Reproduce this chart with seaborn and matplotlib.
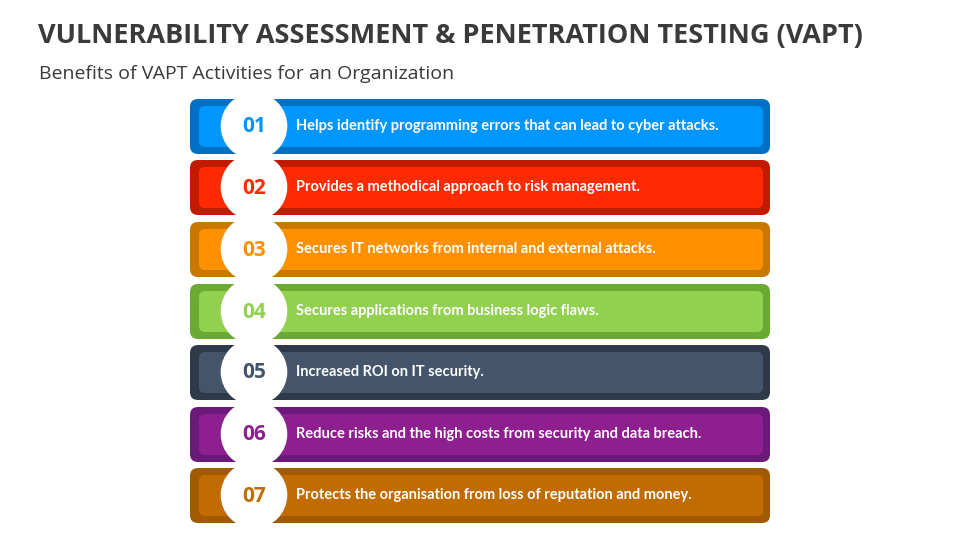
import matplotlib
matplotlib.use('Agg')
import matplotlib.pyplot as plt
import seaborn as sns
import pandas as pd
from matplotlib.patches import FancyBboxPatch

sns.set_theme(style='white')

title = 'VULNERABILITY ASSESSMENT & PENETRATION TESTING (VAPT)'
subtitle = 'Benefits of VAPT Activities for an Organization'
numbers = ['01', '02', '03', '04', '05', '06', '07']
benefits = [
    'Helps identify programming errors that can lead to cyber attacks.',
    'Provides a methodical approach to risk management.',
    'Secures IT networks from internal and external attacks.',
    'Secures applications from business logic flaws.',
    'Increased ROI on IT security.',
    'Reduce risks and the high costs from security and data breach.',
    'Protects the organisation from loss of reputation and money.',
]
row_y = [126, 187, 249, 311, 372, 434, 495]
dark = ['#0070C4', '#C21A00', '#C87800', '#6AAA33', '#2E3A4A', '#6A1A78', '#A25A00']
light = ['#0096FF', '#FF2A00', '#FF9100', '#92D050', '#44546A', '#8E1F8F', '#C06C00']

df = pd.DataFrame({'num': numbers, 'text': benefits, 'y': row_y})

fig = plt.figure(figsize=(9.6, 5.4), dpi=100)
ax = fig.add_axes([0, 0, 1, 1])
ax.set_xlim(0, 960)
ax.set_ylim(540, 0)
ax.axis('off')

for i, r in df.iterrows():
    y = r['y']
    ax.add_patch(FancyBboxPatch((192, y - 25), 576, 51,
                                boxstyle='round,pad=2,rounding_size=8',
                                fc=dark[i], ec='none', zorder=1))
    ax.add_patch(FancyBboxPatch((199, y - 20), 564, 41,
                                boxstyle='round,pad=0,rounding_size=6',
                                fc=light[i], ec='none', zorder=2))
    ax.text(296, y, r['text'], color='white', fontsize=10.5, fontweight='bold',
            family='Lato', va='center', ha='left', zorder=5)

# white spine through the bars
ax.plot([258, 258], [95, 525], color='white', lw=7, zorder=3, solid_capstyle='butt')
sns.scatterplot(x=[254] * len(df), y=df['y'], s=2300, color='white',
                edgecolor='none', ax=ax, zorder=4, legend=False)
for i, r in df.iterrows():
    ax.text(254, r['y'] + 1, r['num'], color=light[i], fontsize=15, fontweight='bold',
            family='Open Sans', ha='center', va='center', zorder=5)

ax.text(38, 36, title, fontsize=19.5, fontweight='bold', family='Open Sans',
        color='#3A3A3A', va='center', ha='left')
ax.text(39, 74, subtitle, fontsize=14, family='Open Sans', color='#3A3A3A',
        va='center', ha='left')

fig.savefig('out.png', dpi=100)
